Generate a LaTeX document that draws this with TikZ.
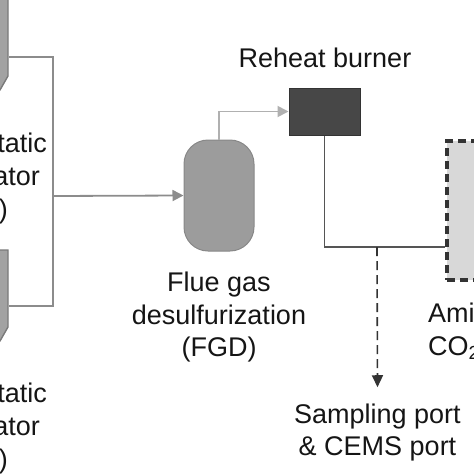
\documentclass[tikz,border=0pt]{standalone}
\usepackage{fontspec}
\setmainfont{Liberation Sans}
\usetikzlibrary{arrows.meta}
\definecolor{espfill}{HTML}{A2A2A2}
\definecolor{espdraw}{HTML}{7A7A7A}
\definecolor{fgdfill}{HTML}{9C9C9C}
\definecolor{fgddraw}{HTML}{888888}
\definecolor{burnfill}{HTML}{474747}
\definecolor{burndraw}{HTML}{333333}
\definecolor{aminefill}{HTML}{D8D8D8}
\definecolor{aminedraw}{HTML}{333333}
\definecolor{pipegray}{HTML}{8C8C8C}
\definecolor{lightpipe}{HTML}{B0B0B0}
\definecolor{darkpipe}{HTML}{555555}
\definecolor{txt}{HTML}{151515}
\begin{document}
\begin{tikzpicture}[x=1pt,y=-1pt,
  lbl/.style={font=\fontsize{27}{33}\selectfont, text=txt, inner sep=0pt, anchor=base},
  espbox/.style={draw=espdraw, fill=espfill, line width=1.4pt},
  pipe/.style={draw=pipegray, line width=1.8pt},
  lpipe/.style={draw=lightpipe, line width=1.8pt},
  dpipe/.style={draw=darkpipe, line width=1.8pt},
  fgdbox/.style={draw=fgddraw, fill=fgdfill, line width=1pt, rounded corners=24pt,
    minimum width=70pt, minimum height=111pt, inner sep=0pt},
  burnbox/.style={draw=burndraw, fill=burnfill, line width=1pt,
    minimum width=71pt, minimum height=47pt, inner sep=0pt},
  aminebox/.style={draw=aminedraw, fill=aminefill, line width=3.2pt, dash pattern=on 8pt off 5pt,
    minimum width=70pt, minimum height=139pt, inner sep=0pt},
  samplearrow/.style={draw=burndraw, line width=1.6pt, dash pattern=on 9pt off 5pt,
    -{Triangle[length=12pt,width=11pt]}}
]
\useasboundingbox (0,0) rectangle (474,474);
\clip (0,0) rectangle (474,474);

% electrostatic precipitators (clipped at left edge)
\draw[espbox] (-5,-5) -- (8,-5) -- (8,76) -- (0,90) -- (-5,90) -- cycle;
\draw[espbox] (-5,250) -- (8,250) -- (8,327) -- (0,341) -- (-5,341) -- cycle;
\coordinate (esp1) at (8.7,57);
\coordinate (esp2) at (8.7,306);
\coordinate (split) at (53,196);

\node[lbl, anchor=base east] (e1a) at (47,152) {tatic};
\node[lbl, anchor=base east] (e1b) at (40,185) {ator};
\node[lbl, anchor=base east] (e1c) at (8,218) {)};
\node[lbl, anchor=base east] (e2a) at (47,402) {tatic};
\node[lbl, anchor=base east] (e2b) at (40,435) {ator};
\node[lbl, anchor=base east] (e2c) at (8,468) {)};

% FGD
\node[fgdbox] (fgd) at (219,195.5) {};
\node[lbl] (f1) at (219,291) {Flue gas};
\node[lbl] (f2) at (219,324) {desulfurization};
\node[lbl] (f3) at (219,356) {(FGD)};

% reheat burner
\node[burnbox] (burner) at (324.5,111.5) {};
\node[lbl] (rb) at (325,67) {Reheat burner};

% amine box (clipped at right edge)
\node[aminebox] (amine) at (482,210.5) {};
\node[lbl, anchor=base west] (a1) at (428,322) {Ami};
\node[lbl, anchor=base west] (a2) at (428,355) {CO\textsubscript{2}};

% sampling port
\node[lbl] (s1) at (377.5,423) {Sampling port};
\node[lbl] (s2) at (377.5,455) {\& CEMS port};

% connectors
\draw[pipe] (esp1) -| (split);
\draw[pipe] (esp2) -| (split);
\draw[pipe, -{Triangle[length=11pt,width=11pt]}] (split) -- (fgd.west);
\draw[lpipe, -{Triangle[length=11pt,width=11pt]}] (fgd.north) |- (burner.west);
\coordinate (tee) at (377,247);
\draw[dpipe] (burner.south) |- (tee) -- (amine.west |- tee);
\draw[samplearrow] (tee) -- ([yshift=16pt]s1.north);
\end{tikzpicture}
\end{document}
